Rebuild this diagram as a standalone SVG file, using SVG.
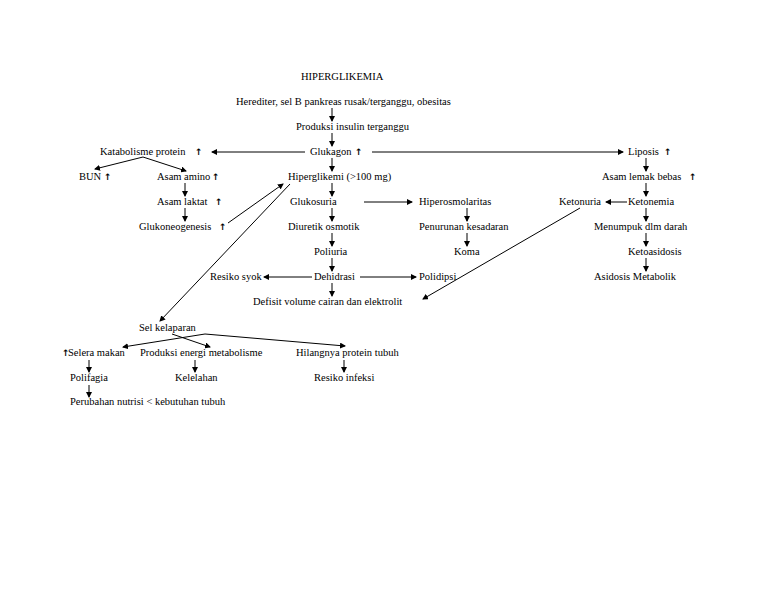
<svg xmlns="http://www.w3.org/2000/svg" width="768" height="594" viewBox="0 0 768 594">
<style>
text{font-family:"Liberation Serif",serif;font-size:10.5px;fill:#000}
.u{font-family:"DejaVu Sans",sans-serif;font-size:9px;font-weight:bold}
line{stroke:#000;stroke-width:1;marker-end:url(#a)}
</style>
<defs><marker id="a" markerWidth="6" markerHeight="6" refX="5" refY="3" orient="auto" markerUnits="userSpaceOnUse"><path d="M0,0L6,3L0,6z"/></marker></defs>
<rect width="768" height="594" fill="#fff"/>
<g id="n-title"><text x="301" y="80">HIPERGLIKEMIA</text></g>
<g id="n-herediter"><text x="236" y="105">Herediter, sel B pankreas rusak/terganggu, obesitas</text></g>
<g id="n-produksi"><text x="296" y="130">Produksi insulin terganggu</text></g>
<g id="n-glukagon"><text x="310" y="155">Glukagon</text><text class="u" x="355" y="155">↑</text></g>
<g id="n-katabolisme"><text x="100" y="155">Katabolisme protein</text><text class="u" x="195" y="155">↑</text></g>
<g id="n-bun"><text x="79" y="180">BUN</text><text class="u" x="104" y="180">↑</text></g>
<g id="n-asamamino"><text x="157" y="180">Asam amino</text><text class="u" x="212" y="180">↑</text></g>
<g id="n-asamlaktat"><text x="157" y="205">Asam laktat</text><text class="u" x="215" y="205">↑</text></g>
<g id="n-glukoneo"><text x="139" y="230">Glukoneogenesis</text><text class="u" x="219" y="230">↑</text></g>
<g id="n-hiperglikemi"><text x="288" y="180">Hiperglikemi (&gt;100 mg)</text></g>
<g id="n-glukosuria"><text x="290" y="205">Glukosuria</text></g>
<g id="n-hiperosmo"><text x="419" y="205">Hiperosmolaritas</text></g>
<g id="n-diuretik"><text x="288" y="230">Diuretik osmotik</text></g>
<g id="n-penurunan"><text x="419" y="230">Penurunan kesadaran</text></g>
<g id="n-poliuria"><text x="314" y="255">Poliuria</text></g>
<g id="n-koma"><text x="454" y="255">Koma</text></g>
<g id="n-resikosyok"><text x="210" y="280">Resiko syok</text></g>
<g id="n-dehidrasi"><text x="314" y="280">Dehidrasi</text></g>
<g id="n-polidipsi"><text x="419" y="280">Polidipsi</text></g>
<g id="n-defisit"><text x="253" y="305">Defisit volume cairan dan elektrolit</text></g>
<g id="n-liposis"><text x="628" y="155">Liposis</text><text class="u" x="664" y="155">↑</text></g>
<g id="n-asamlemak"><text x="602" y="180">Asam lemak bebas</text><text class="u" x="689" y="180">↑</text></g>
<g id="n-ketonuria"><text x="559" y="205">Ketonuria</text></g>
<g id="n-ketonemia"><text x="628" y="205">Ketonemia</text></g>
<g id="n-menumpuk"><text x="594" y="230">Menumpuk dlm darah</text></g>
<g id="n-ketoasidosis"><text x="628" y="255">Ketoasidosis</text></g>
<g id="n-asidosis"><text x="594" y="280">Asidosis Metabolik</text></g>
<g id="n-sel"><text x="139" y="331">Sel kelaparan</text></g>
<g id="n-selera"><text class="u" x="62" y="356">↑</text><text x="68" y="356">Selera makan</text></g>
<g id="n-energi"><text x="140" y="356">Produksi energi metabolisme</text></g>
<g id="n-hilangnya"><text x="296" y="356">Hilangnya protein tubuh</text></g>
<g id="n-polifagia"><text x="70" y="381">Polifagia</text></g>
<g id="n-kelelahan"><text x="175" y="381">Kelelahan</text></g>
<g id="n-infeksi"><text x="314" y="381">Resiko infeksi</text></g>
<g id="n-perubahan"><text x="70" y="405">Perubahan nutrisi &lt; kebutuhan tubuh</text></g>
<g id="connectors">
<line x1="332" y1="108" x2="332" y2="121"/>
<line x1="332" y1="133" x2="332" y2="146"/>
<line x1="332" y1="158" x2="332" y2="171"/>
<line x1="332" y1="183" x2="332" y2="196"/>
<line x1="332" y1="208" x2="332" y2="221"/>
<line x1="332" y1="233" x2="332" y2="246"/>
<line x1="332" y1="258" x2="332" y2="271"/>
<line x1="332" y1="283" x2="332" y2="296"/>
<line x1="305" y1="152" x2="212" y2="152"/>
<line x1="372" y1="152" x2="623" y2="152"/>
<line x1="143" y1="157" x2="95" y2="169"/>
<line x1="143" y1="157" x2="186" y2="171"/>
<line x1="185" y1="183" x2="185" y2="196"/>
<line x1="185" y1="208" x2="185" y2="221"/>
<line x1="228" y1="223" x2="283" y2="184"/>
<line x1="290" y1="184" x2="160" y2="321"/>
<line x1="364" y1="202" x2="412" y2="202"/>
<line x1="467" y1="208" x2="467" y2="221"/>
<line x1="467" y1="233" x2="467" y2="246"/>
<line x1="312" y1="277" x2="264" y2="277"/>
<line x1="360" y1="277" x2="416" y2="277"/>
<line x1="580" y1="208" x2="423" y2="299"/>
<line x1="627" y1="202" x2="606" y2="202"/>
<line x1="646" y1="158" x2="646" y2="171"/>
<line x1="646" y1="183" x2="646" y2="196"/>
<line x1="646" y1="208" x2="646" y2="221"/>
<line x1="646" y1="233" x2="646" y2="246"/>
<line x1="646" y1="258" x2="646" y2="271"/>
<line x1="205" y1="334" x2="123" y2="347"/>
<line x1="172" y1="334" x2="210" y2="347"/>
<line x1="205" y1="334" x2="345" y2="346"/>
<line x1="89" y1="360" x2="89" y2="372"/>
<line x1="89" y1="385" x2="89" y2="397"/>
<line x1="195" y1="360" x2="195" y2="372"/>
<line x1="344" y1="360" x2="344" y2="372"/>
</g>
</svg>
